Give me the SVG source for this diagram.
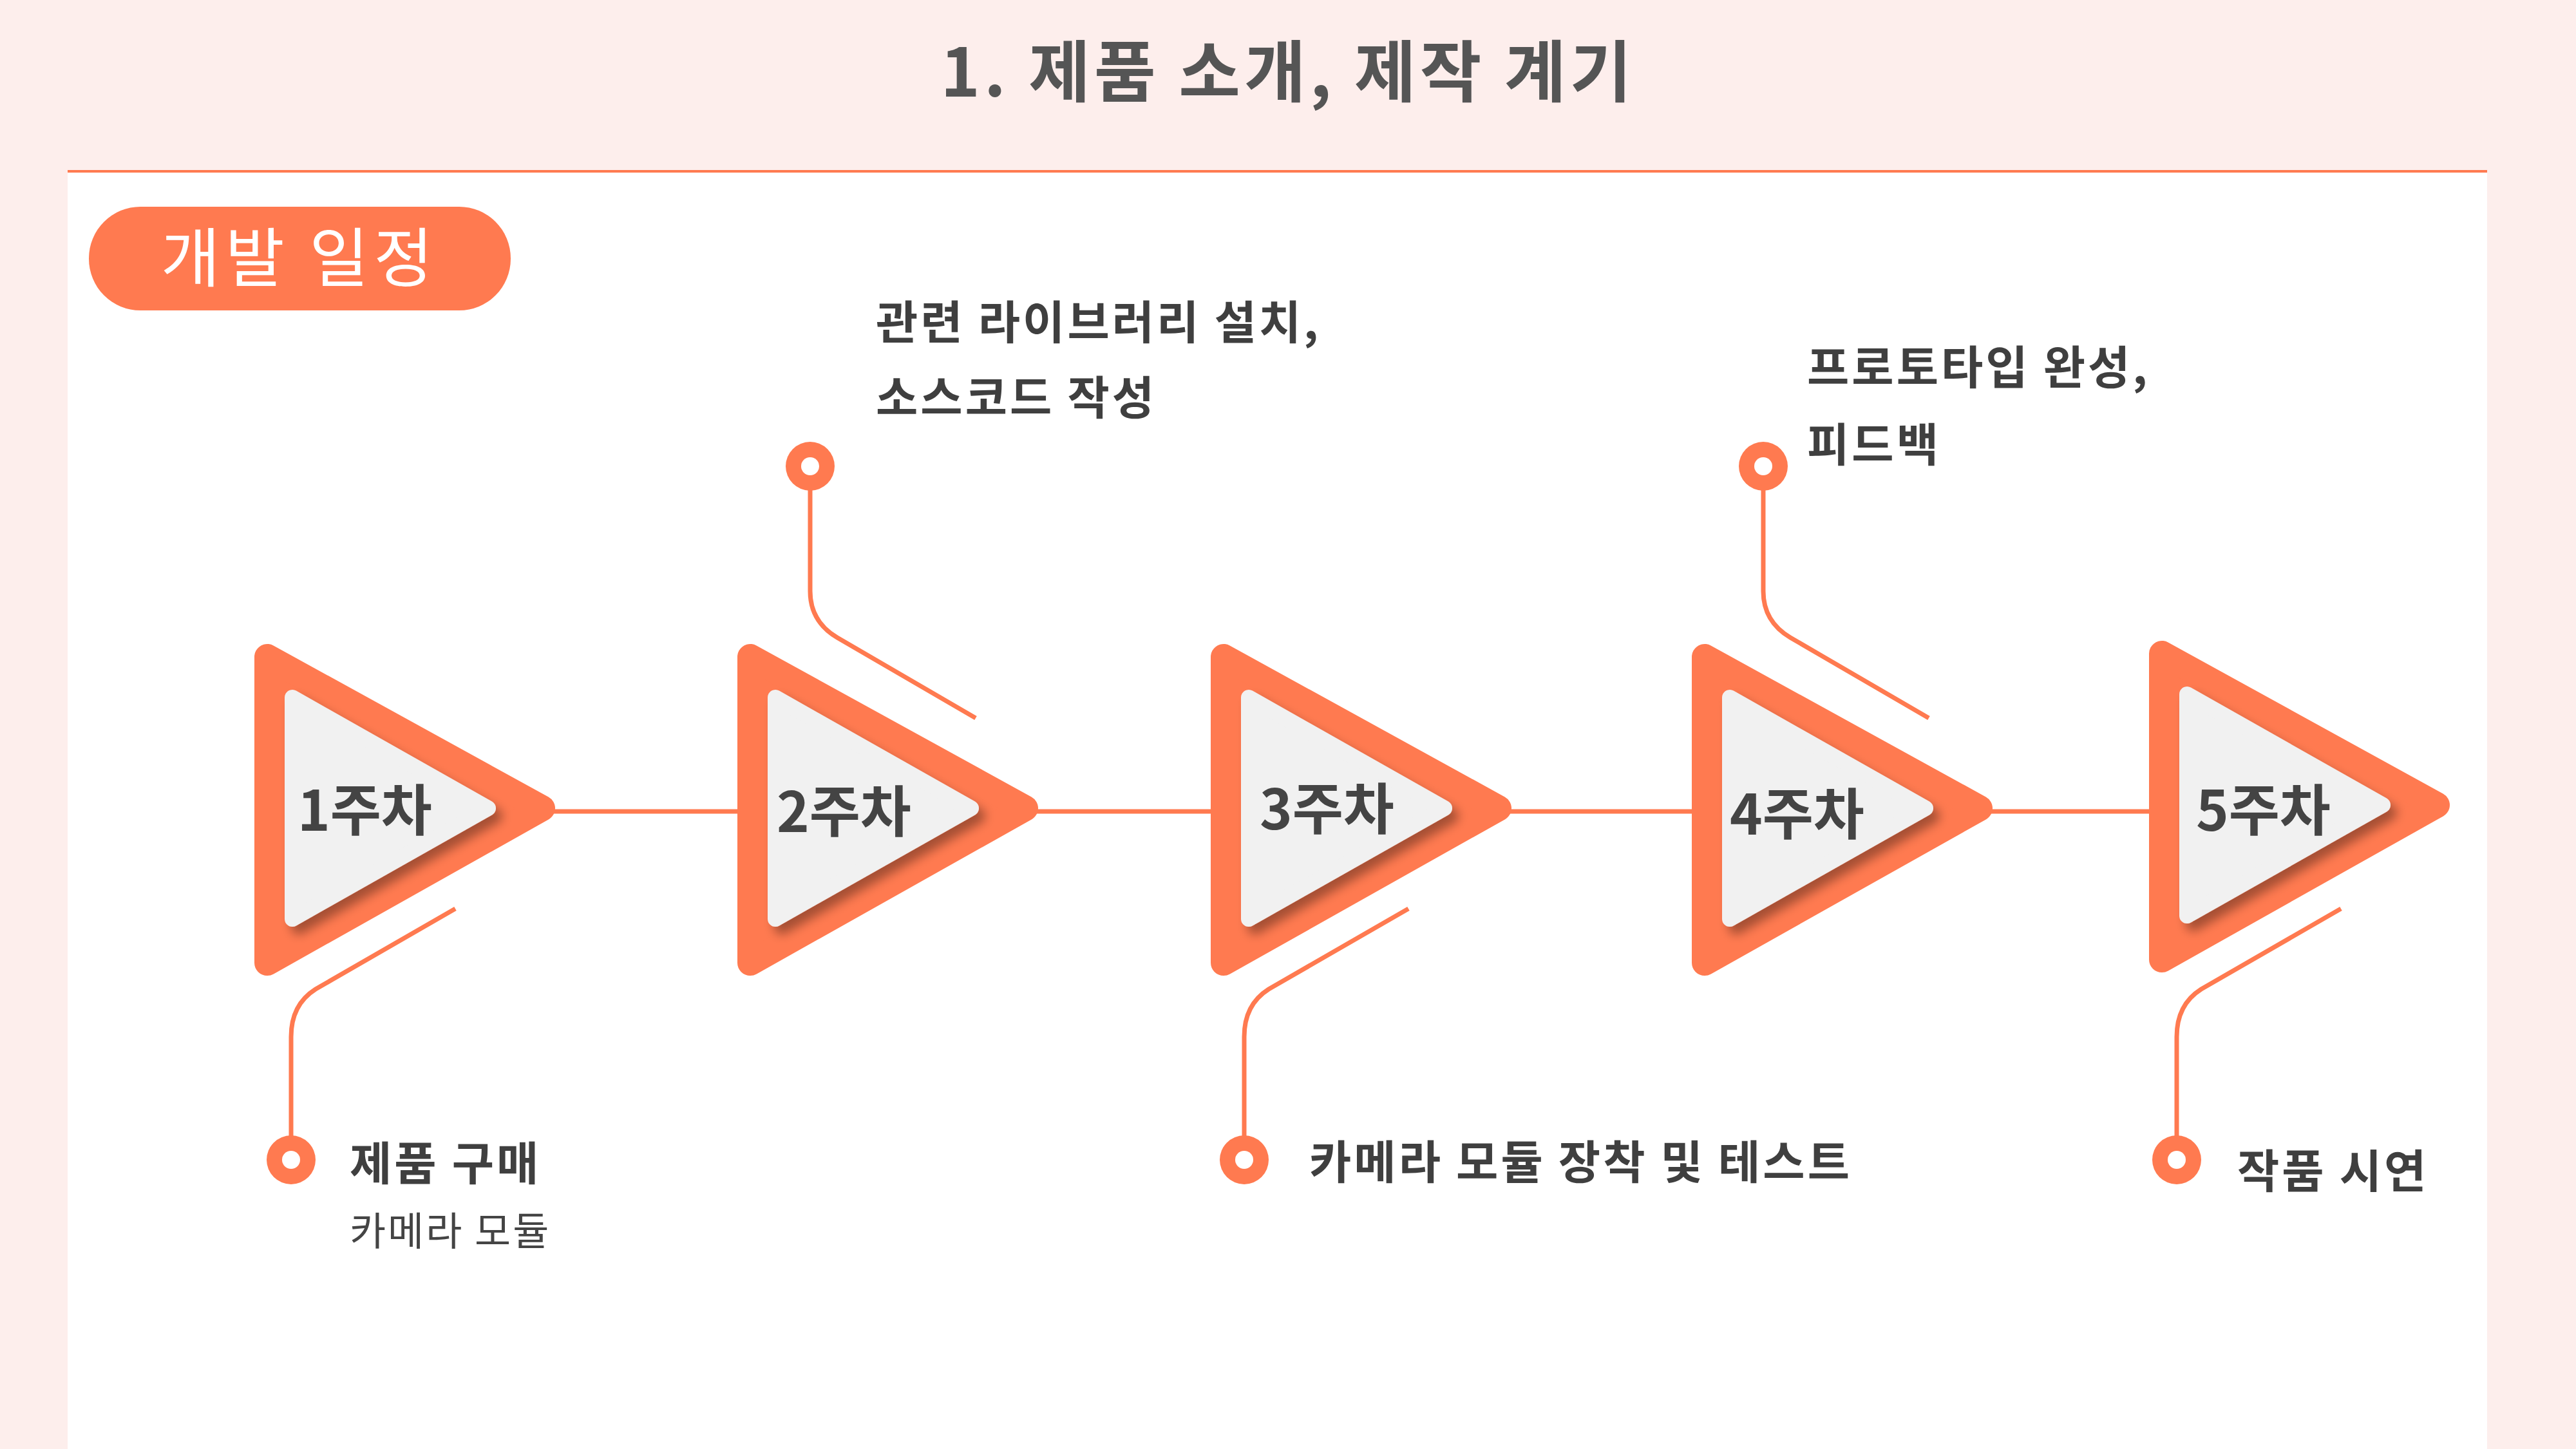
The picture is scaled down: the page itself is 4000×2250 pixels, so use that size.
<svg xmlns="http://www.w3.org/2000/svg" width="4000" height="2250" viewBox="0 0 4000 2250">
<style>
.t{font-family:"Noto Sans CJK KR","Noto Sans",sans-serif}
.lab{font-family:"Noto Sans CJK KR",sans-serif;font-weight:700;font-size:71px;letter-spacing:4px;fill:#3f3f3f}
.wk{font-family:"Noto Sans CJK KR",sans-serif;font-weight:700;font-size:86px;fill:#444}
.ln{fill:none;stroke:#FF7A50;stroke-width:7}
</style>
<defs>
<filter id="sh" x="-20%" y="-20%" width="150%" height="150%"><feDropShadow dx="10" dy="12" stdDeviation="8" flood-color="#000" flood-opacity="0.35"/></filter>
<g id="tri">
<polygon points="20,25 20,500 447,260" fill="#FF7A50" stroke="#FF7A50" stroke-width="40" stroke-linejoin="round"/>
<polygon points="59,88 59,432 363,260" fill="#F1F1F1" stroke="#F1F1F1" stroke-width="24" stroke-linejoin="round" filter="url(#sh)"/>
</g>
<g id="dot"><circle r="38" fill="#FF7A50"/><circle r="14" fill="#fff"/></g>
</defs>
<rect width="4000" height="2250" fill="#FDEEEC"/>
<rect x="105" y="265" width="3757" height="1985" fill="#fff"/>
<line x1="105" y1="266" x2="3862" y2="266" stroke="#FF7A50" stroke-width="4"/>
<text x="2000" y="150" text-anchor="middle" class="t" font-size="104" font-weight="700" letter-spacing="6" fill="#555">1. 제품 소개, 제작 계기</text>
<g id="pill"><rect x="138" y="321" width="655" height="161" rx="80" fill="#FF7A50"/>
<text x="465" y="437" text-anchor="middle" class="t" font-size="100" letter-spacing="8" fill="#fff">개발 일정</text></g>
<g id="connectors">
<line class="ln" x1="860" y1="1260" x2="3340" y2="1260"/>
<path class="ln" d="M707,1411 L490,1536 Q452,1560 452,1610 L452,1801"/>
<path class="ln" d="M2187,1411 L1970,1536 Q1932,1560 1932,1610 L1932,1801"/>
<path class="ln" d="M3635,1411 L3418,1536 Q3380,1560 3380,1610 L3380,1801"/>
<path class="ln" d="M1258,724 L1258,918 Q1258,965 1300,990 L1515,1115"/>
<path class="ln" d="M2738,724 L2738,918 Q2738,965 2780,990 L2995,1115"/>
</g>
<g id="w1"><use href="#tri" x="395" y="995"/><text x="462" y="1290" class="wk">1주차</text></g>
<g id="w2"><use href="#tri" x="1145" y="995"/><text x="1206" y="1292" class="wk">2주차</text></g>
<g id="w3"><use href="#tri" x="1880" y="995"/><text x="1956" y="1288" class="wk">3주차</text></g>
<g id="w4"><use href="#tri" x="2627" y="995"/><text x="2686" y="1296" class="wk">4주차</text></g>
<g id="w5"><use href="#tri" x="3337" y="990"/><text x="3410" y="1290" class="wk">5주차</text></g>
<g id="c1"><use href="#dot" x="452" y="1801"/><text x="543" y="1832" class="lab">제품 구매</text><text x="543" y="1934" class="t" font-size="61" letter-spacing="3" fill="#444">카메라 모듈</text></g>
<g id="c2"><use href="#dot" x="1258" y="724"/><text x="1360" y="526" class="lab">관련 라이브러리 설치,</text><text x="1360" y="643" class="lab">소스코드 작성</text></g>
<g id="c3"><use href="#dot" x="1932" y="1801"/><text x="2033" y="1830" class="lab">카메라 모듈 장착 및 테스트</text></g>
<g id="c4"><use href="#dot" x="2738" y="724"/><text x="2806" y="596" class="lab">프로토타입 완성,</text><text x="2806" y="716" class="lab">피드백</text></g>
<g id="c5"><use href="#dot" x="3380" y="1801"/><text x="3474" y="1844" class="lab">작품 시연</text></g>
</svg>
